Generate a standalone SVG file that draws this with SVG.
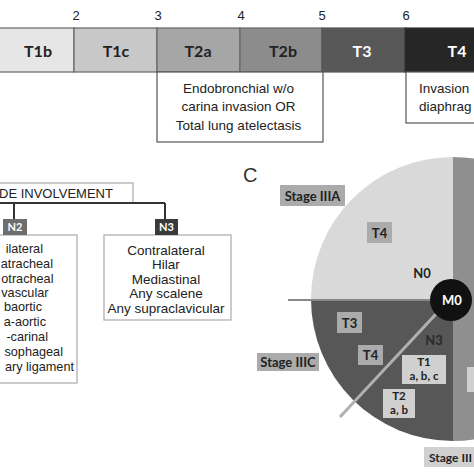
<svg xmlns="http://www.w3.org/2000/svg" width="474" height="474" viewBox="0 0 474 474">
<style>
.num{font-family:"Liberation Sans",Arial,sans-serif;font-size:13px;fill:#222;text-anchor:middle}
.seg{font-family:Lato,"Liberation Sans",sans-serif;font-weight:bold;font-size:16px;text-anchor:middle}
.desc{font-family:"Liberation Sans",Arial,sans-serif;font-size:13.5px;fill:#222;text-anchor:middle}
.list{font-family:"Liberation Sans",Arial,sans-serif;font-size:13.5px;fill:#222}
.list2{font-family:"Liberation Sans",Arial,sans-serif;font-size:12.7px;fill:#222;text-anchor:end}
.box{fill:#fff;stroke:#aaa;stroke-width:1.2}
.dbox{fill:#fff;stroke:#555;stroke-width:1.2}
.nl{font-family:Lato,"Liberation Sans",sans-serif;font-weight:bold;font-size:11px;fill:#fff;text-anchor:middle}
.pl{font-family:Lato,"Liberation Sans",sans-serif;font-weight:bold;font-size:13px;fill:#222;text-anchor:middle}
.ps{font-family:Lato,"Liberation Sans",sans-serif;font-weight:bold;font-size:11.5px;fill:#222;text-anchor:middle}
.lab{fill:#ababab}
.lab2{fill:#d0d0d0}
.conn{fill:none;stroke:#333;stroke-width:2}
</style>
<rect width="474" height="474" fill="#fff"/>

<g id="scale">
<text class="num" x="76" y="20">2</text>
<text class="num" x="158" y="20">3</text>
<text class="num" x="241" y="20">4</text>
<text class="num" x="322" y="20">5</text>
<text class="num" x="406" y="20">6</text>
</g>

<g id="bar">
<rect id="T1b" x="-2" y="28" width="76" height="44" fill="#e6e6e6" stroke="#666" stroke-width="1.2"/>
<rect id="T1c" x="74" y="28" width="83" height="44" fill="#c8c8c8" stroke="#666" stroke-width="1.2"/>
<rect id="T2a" x="157" y="28" width="83" height="44" fill="#a6a6a6" stroke="#666" stroke-width="1.2"/>
<rect id="T2b" x="240" y="28" width="82" height="44" fill="#8c8c8c" stroke="#666" stroke-width="1.2"/>
<rect id="T3" x="322" y="28" width="83" height="44" fill="#585858" stroke="#555" stroke-width="1.2"/>
<rect id="T4" x="405" y="28" width="80" height="44" fill="#262626" stroke="#333" stroke-width="1.2"/>
<text class="seg" x="38" y="57" fill="#222">T1b</text>
<text class="seg" x="116" y="57" fill="#222">T1c</text>
<text class="seg" x="198" y="57" fill="#222">T2a</text>
<text class="seg" x="283" y="57" fill="#222">T2b</text>
<text class="seg" x="362" y="57" fill="#fff">T3</text>
<text class="seg" x="457" y="57" fill="#fff">T4</text>
</g>

<g id="t2desc">
<rect class="dbox" x="157" y="72" width="166" height="70"/>
<text class="desc" x="238.5" y="92.5">Endobronchial w/o</text>
<text class="desc" x="238.5" y="111">carina invasion OR</text>
<text class="desc" x="238.5" y="129.5">Total lung atelectasis</text>
</g>

<g id="t4desc">
<rect class="dbox" x="406" y="72" width="80" height="51"/>
<text class="desc" x="419" y="92.5" style="text-anchor:start">Invasion</text>
<text class="desc" x="419" y="111" style="text-anchor:start">diaphrag</text>
</g>

<g id="nodeinv">
<rect class="box" x="-5" y="183" width="138" height="20"/>
<text class="list" x="-1" y="198" style="font-size:13px">DE INVOLVEMENT</text>
</g>

<g id="connectors">
<path class="conn" d="M0,203 H165 M14,203 V219 M165,203 V219"/>
</g>

<g id="N2">
<rect class="box" x="-60" y="235" width="137" height="148"/>
<rect x="3" y="219" width="24" height="16" fill="#6e6e6e"/>
<text class="nl" x="15" y="231">N2</text>
<text class="list2" x="43" y="253">ilateral</text>
<text class="list2" x="53" y="268">atracheal</text>
<text class="list2" x="53.5" y="283">otracheal</text>
<text class="list2" x="48.5" y="297">vascular</text>
<text class="list2" x="42" y="311">baortic</text>
<text class="list2" x="46" y="326">a-aortic</text>
<text class="list2" x="48" y="341">-carinal</text>
<text class="list2" x="63" y="356">sophageal</text>
<text class="list2" x="74" y="371">ary ligament</text>
</g>

<g id="N3">
<rect class="box" x="104" y="235" width="127" height="85"/>
<rect x="155" y="219" width="23" height="16" fill="#3a3a3a"/>
<text class="nl" x="166.5" y="231">N3</text>
<g class="list" style="text-anchor:middle">
<text x="166" y="254.5">Contralateral</text>
<text x="166" y="269">Hilar</text>
<text x="166" y="283.5">Mediastinal</text>
<text x="166" y="298">Any scalene</text>
<text x="166" y="312.5">Any supraclavicular</text>
</g>
</g>

<text id="panelC" x="243" y="182" style="font-family:'Liberation Sans',Arial,sans-serif;font-size:20px;fill:#333">C</text>

<g id="pie">
<path d="M453,299 L311,299 A142,142 0 0 1 453,157 Z" fill="#d9d9d9"/>
<path d="M453,299 L453,441 A142,142 0 0 1 311,299 Z" fill="#575757"/>
<path d="M453,157 A142,142 0 0 1 453,441 Z" fill="#8f8f8f"/>
<line x1="288" y1="300" x2="453" y2="300" stroke="#888" stroke-width="2"/>
<line x1="340" y1="417" x2="436" y2="314" stroke="#b0b0b0" stroke-width="3"/>
<circle cx="451" cy="300" r="21" fill="#111"/>
<text class="pl" x="452" y="305" style="fill:#fff">M0</text>
</g>

<g id="stageIIIA">
<rect class="lab" x="280" y="185" width="65" height="21"/>
<text class="pl" x="312.5" y="200.5">Stage IIIA</text>
<rect class="lab" x="367" y="222" width="25" height="21"/>
<text class="pl" x="379.5" y="237.5">T4</text>
<text class="pl" x="422" y="278">N0</text>
</g>

<g id="stageIIIC">
<rect class="lab" x="257" y="353" width="62" height="18"/>
<text class="pl" x="288" y="367">Stage IIIC</text>
<rect class="lab" x="337" y="312" width="25" height="21"/>
<text class="pl" x="349.5" y="327.5">T3</text>
<rect class="lab" x="358" y="345" width="25" height="20"/>
<text class="pl" x="370.5" y="360">T4</text>
<text class="pl" x="434" y="345" style="fill:#2a2a2a">N3</text>
<rect class="lab2" x="402" y="355" width="44" height="29"/>
<text class="ps" x="424" y="366">T1</text>
<text class="ps" x="424" y="380">a, b, c</text>
<rect class="lab2" x="383" y="389" width="32" height="29"/>
<text class="ps" x="399" y="400">T2</text>
<text class="ps" x="399" y="414">a, b</text>
</g>

<g id="stageIIIB">
<rect class="lab2" x="467" y="367" width="20" height="25"/>
<rect class="lab2" x="424" y="447" width="60" height="20"/>
<text class="pl" x="429" y="462" style="text-anchor:start;font-size:12px">Stage III</text>
</g>
</svg>
